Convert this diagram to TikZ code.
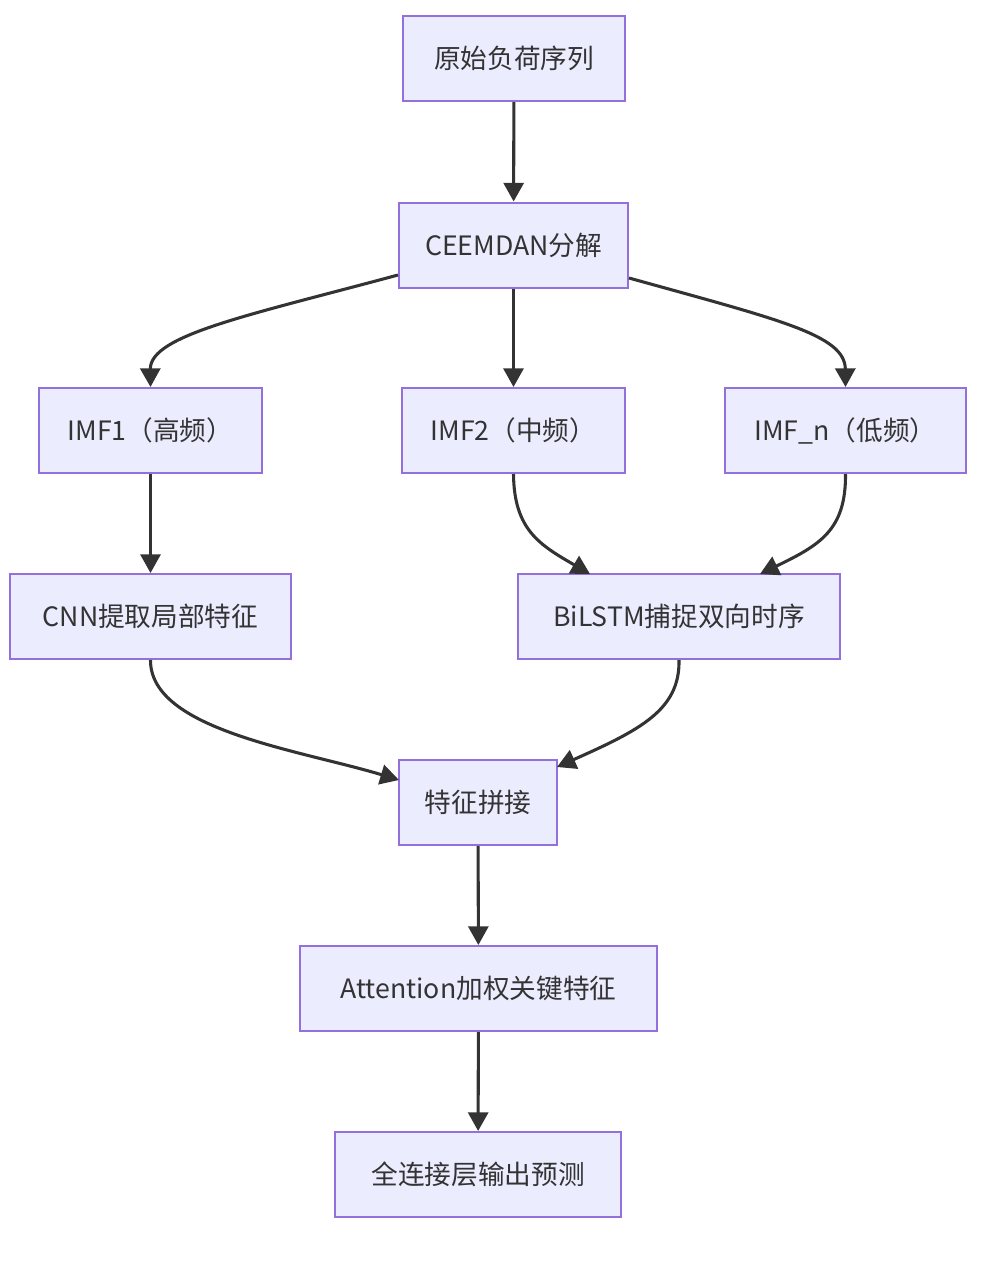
\documentclass[tikz,border=0pt]{standalone}
\usepackage{fontspec}
\setmainfont{Noto Sans CJK SC}
\usetikzlibrary{arrows.meta}
\definecolor{boxfill}{HTML}{ECECFF}
\definecolor{boxline}{HTML}{9370DB}
\definecolor{edge}{HTML}{333333}
\begin{document}
\begin{tikzpicture}[x=0.75pt,y=-0.75pt,
  box/.style={draw=boxline,fill=boxfill,line width=1.5pt,inner sep=0pt,
    font=\fontsize{20}{24}\selectfont,text=edge,minimum height=85*0.75pt},
  arr/.style={draw=edge,line width=2.3pt,-{Triangle[length=14pt,width=15pt]}}]
\useasboundingbox (0,0) rectangle (1002,1272);
\node[box,minimum width=222*0.75pt] (src) at (514,58.5) {原始负荷序列};
\node[box,minimum width=229*0.75pt] (dec) at (513.5,245) {CEEMDAN分解};
\node[box,minimum width=223*0.75pt] (imf1) at (150.5,430.5) {IMF1（高频）};
\node[box,minimum width=223*0.75pt] (imf2) at (513.5,430.5) {IMF2（中频）};
\node[box,minimum width=241*0.75pt] (imfn) at (845.5,430.5) {IMF\_n（低频）};
\node[box,minimum width=281*0.75pt] (cnn) at (150.5,616.5) {CNN提取局部特征};
\node[box,minimum width=322*0.75pt] (lstm) at (679,616.5) {BiLSTM捕捉双向时序};
\node[box,minimum width=158*0.75pt] (cat) at (478,802.5) {特征拼接};
\node[box,minimum width=357*0.75pt] (att) at (478.5,988.5) {Attention加权关键特征};
\node[box,minimum width=286*0.75pt] (out) at (478,1174.5) {全连接层输出预测};

\draw[arr] (src) -- (dec);
\draw[arr] (dec.south) -- (imf2.north);
\draw[arr] (dec.west |- 0,275) .. controls (250,315) and (150,335) .. (imf1.north);
\draw[arr] (dec.east |- 0,278) .. controls (780,320) and (845,335) .. (imfn.north);
\draw[arr] (imf1) -- (cnn);
\draw[arr] (imf2.south) .. controls (514,530) and (540,545) .. (590,574);
\draw[arr] (imfn.south) .. controls (846,530) and (820,545) .. (760,574);
\draw[arr] (cnn.south) .. controls (150,730) and (300,750) .. (399,780);
\draw[arr] (lstm.south) .. controls (680,710) and (640,730) .. (557,767);
\draw[arr] (cat) -- (att);
\draw[arr] (att) -- (out);
\end{tikzpicture}
\end{document}
